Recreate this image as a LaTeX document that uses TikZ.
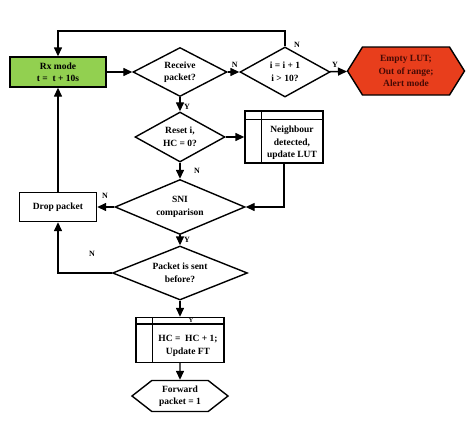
\documentclass[tikz,border=0pt]{standalone}
\usepackage{fontspec}
\setmainfont{Liberation Serif}
\usetikzlibrary{shapes.geometric,shapes.symbols,arrows.meta}
\definecolor{rxgreen}{RGB}{146,208,80}
\definecolor{alertred}{RGB}{232,62,28}
\definecolor{alerttext}{RGB}{70,10,5}
\tikzset{
  box/.style={draw,rectangle,line width=1.4pt,align=center},
  decision/.style={draw,diamond,line width=1.4pt,inner sep=0pt,align=center},
  hexa/.style={draw,signal,signal to=east and west,line width=1.4pt,inner sep=0pt,align=center},
  yn/.style={font=\fontsize{8}{9}\selectfont\bfseries}
}
\begin{document}
\begin{tikzpicture}[x=1pt,y=-1pt,font=\fontsize{9.5}{12.5}\selectfont\bfseries,line width=1.4pt,>={Triangle[length=9pt,width=8pt]}]
\useasboundingbox (0,0) rectangle (474,439);
\node[box,fill=rxgreen,minimum width=96pt,minimum height=30pt] (rx) at (58,72) {Rx mode\\t =~~t + 10s};
\node[decision,aspect=1.9,minimum width=94pt,minimum height=49pt] (recv) at (180,72) {Receive\\packet?};
\node[decision,aspect=1.8,minimum width=90pt,minimum height=50pt] (incr) at (285,72) {i = i + 1\\i > 10?};
\node[hexa,fill=alertred,text=alerttext,signal pointer angle=116,minimum width=117pt,minimum height=48pt] (alert) at (406,71) {Empty LUT;\\Out of range;\\Alert mode};
\node[decision,aspect=1.8,minimum width=90pt,minimum height=50pt] (reset) at (180,137) {Reset i,\\HC = 0?};
\node[box,minimum width=78pt,minimum height=52pt] (nbr) at (284,137) {};
\node[align=center] at (292,143) {Neighbour\\detected,\\update LUT};
\node[decision,aspect=2.36,minimum width=130pt,minimum height=55pt] (sni) at (180,207) {SNI\\comparison};
\node[box,minimum width=77pt,minimum height=29pt] (drop) at (58,207) {Drop packet};
\node[decision,aspect=2.5,minimum width=135pt,minimum height=54pt] (sent) at (180,273) {Packet is sent\\before?};
\node[box,minimum width=88pt,minimum height=45pt] (hc) at (180,340) {};
\node[align=center] at (188,346) {HC =~~HC + 1;\\Update FT};
\node[hexa,signal pointer angle=76,minimum width=96pt,minimum height=31pt] (fwd) at (180,396) {Forward\\packet = 1};
% inner lines of the process boxes
\draw ([xshift=17pt]nbr.north west) -- ([xshift=17pt]nbr.south west);
\draw ([yshift=-9pt]nbr.north west) -- ([yshift=-9pt]nbr.north east);
\draw ([xshift=17pt]hc.north west) -- ([xshift=17pt]hc.south west);
\draw ([yshift=-7pt]hc.north west) -- ([yshift=-7pt]hc.north east);
% connectors
\coordinate (back) at (58,31);
\draw[->] (rx) -- (recv);
\draw[->] (recv) -- (incr) node[yn,pos=0.6,above] {N};
\draw[->] (incr) -- (alert) node[yn,pos=0.3,above] {Y};
\draw[->] (incr.north) |- (back) -- (rx.north);
\node[yn] at (297,45) {N};
\draw[->] (recv) -- (reset) node[yn,pos=0.7,right] {Y};
\draw[->] (reset) -- (nbr);
\draw[->] (nbr.south) |- (sni.east);
\draw[->] (reset) -- (sni) node[yn,midway,right=10pt] {N};
\draw[->] (sni) -- (drop);
\node[yn] at (105,196) {N};
\draw[->] (drop) -- (rx);
\draw[->] (sni) -- (sent) node[yn,midway,right] {Y};
\draw[->] (sent.west) -| (drop.south);
\node[yn] at (92,254) {N};
\draw[->] (sent) -- (hc);
\node[font=\fontsize{6}{7}\selectfont\bfseries] at (191,321) {Y};
\draw[->] (hc) -- (fwd);
\end{tikzpicture}
\end{document}
